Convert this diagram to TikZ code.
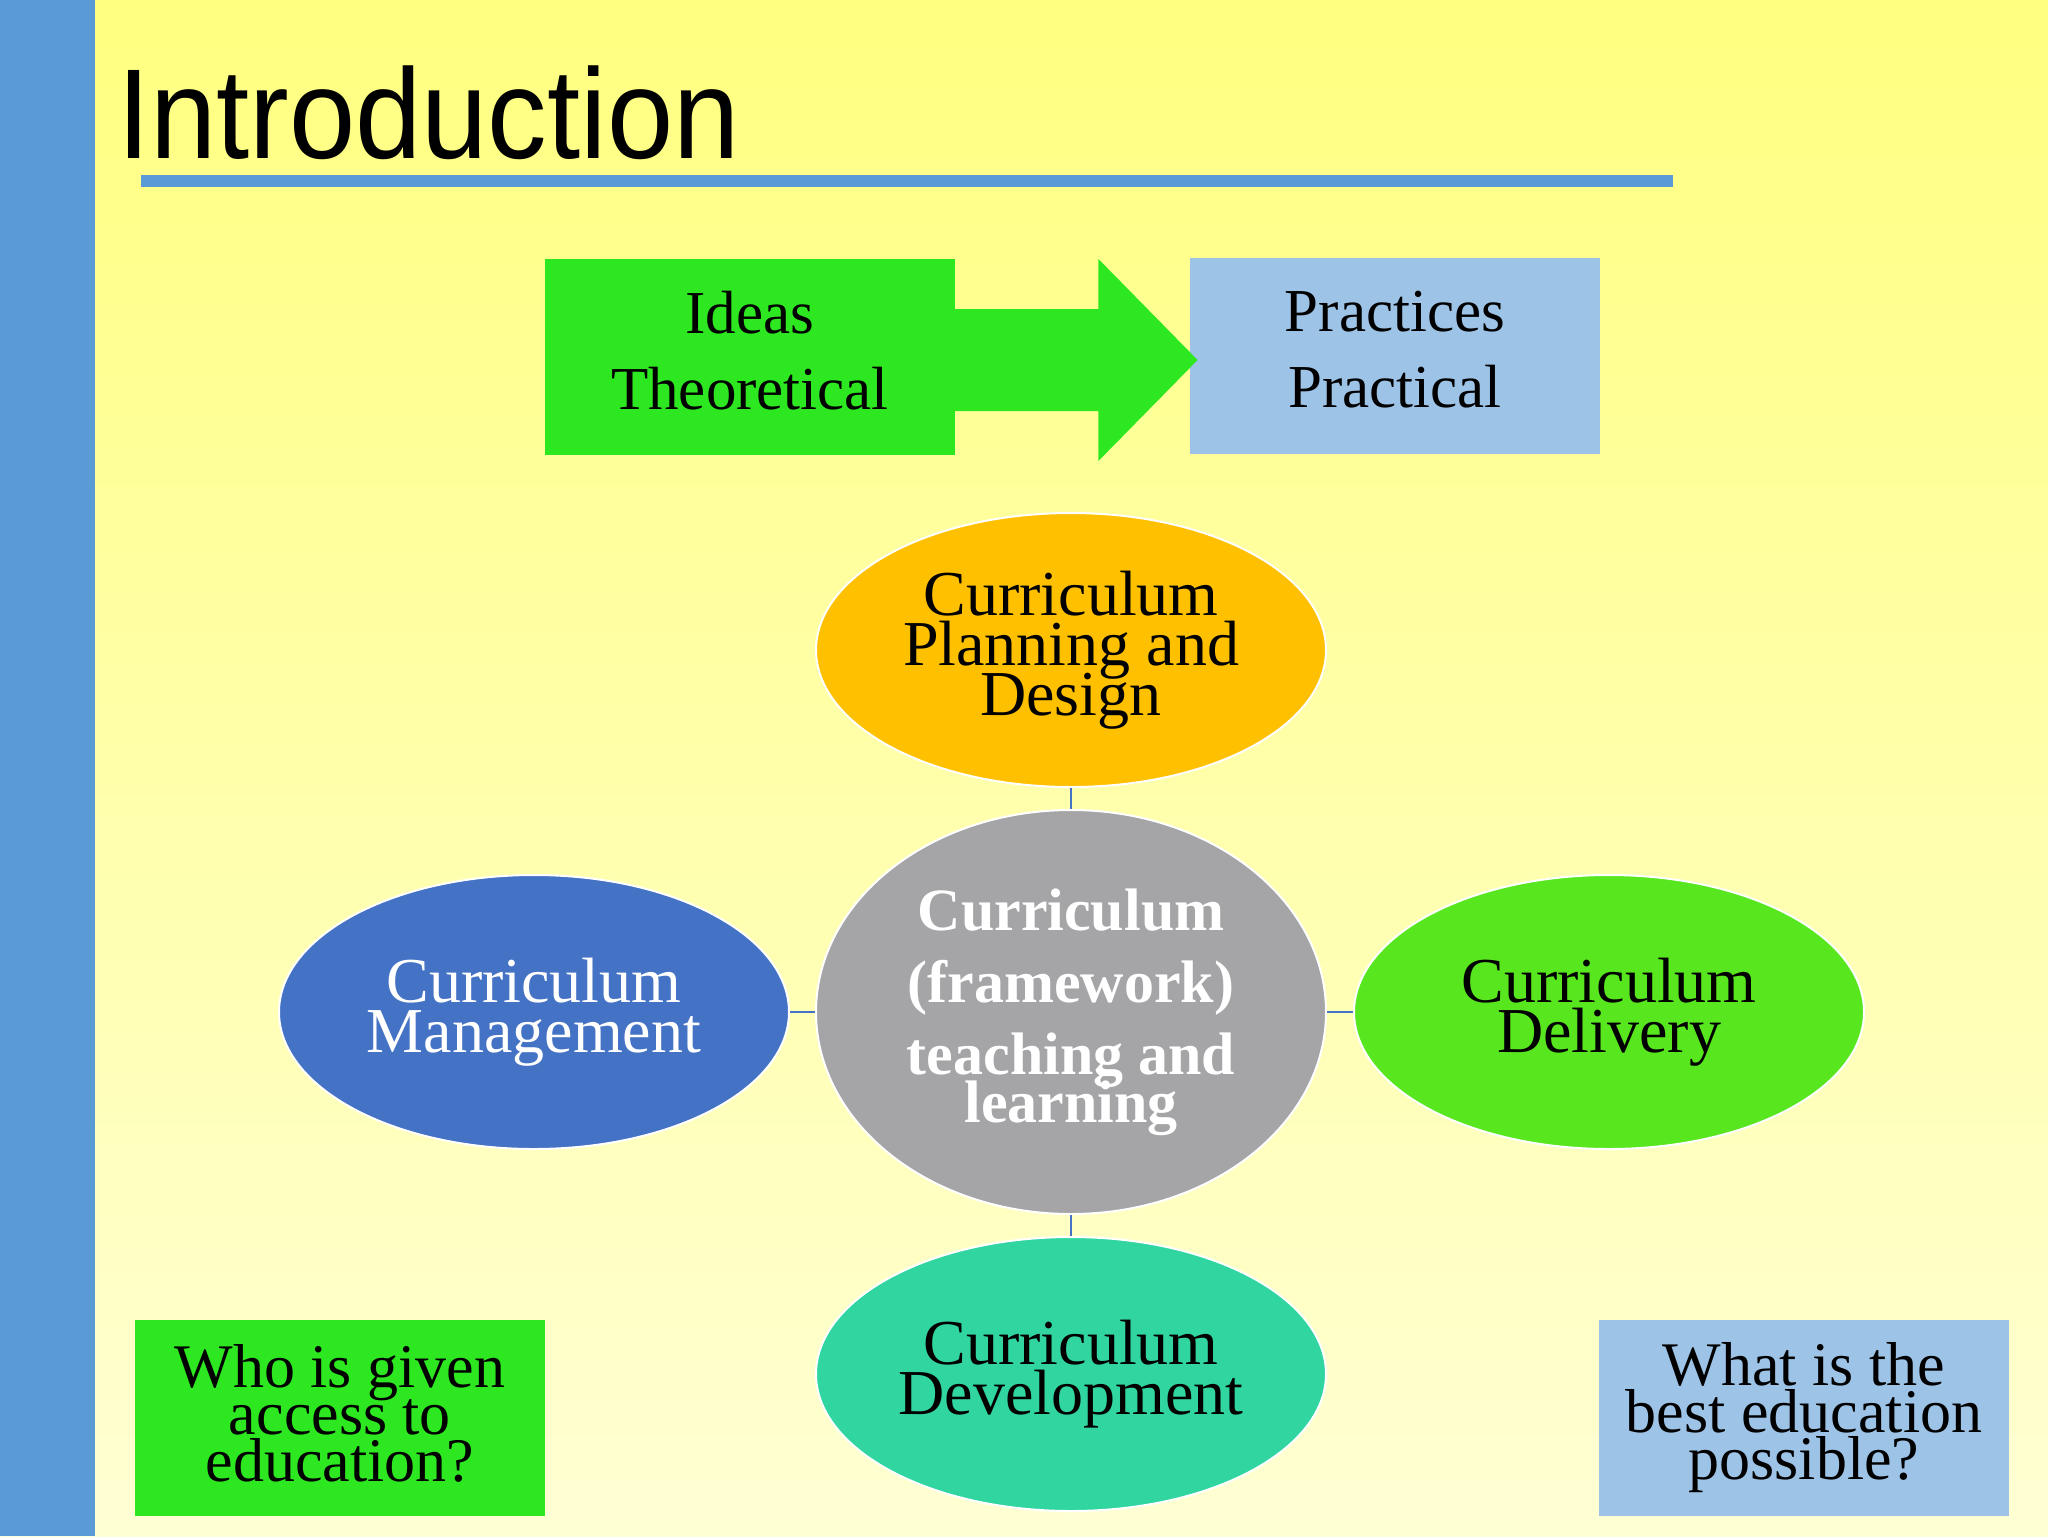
\documentclass[tikz,border=0pt]{standalone}
\usepackage{fontspec}
\setmainfont{Liberation Serif}
\newfontfamily\titlefont{Liberation Sans}
\usetikzlibrary{shapes.geometric,calc}
\definecolor{bgtop}{HTML}{FFFF80}
\definecolor{bgbot}{HTML}{FFFFD4}
\definecolor{barblue}{HTML}{5B9BD5}
\definecolor{boxgreen}{HTML}{2DE820}
\definecolor{boxblue}{HTML}{9DC3E6}
\definecolor{planorange}{HTML}{FFC000}
\definecolor{coregrey}{HTML}{A5A5A8}
\definecolor{mgmtblue}{HTML}{4472C4}
\definecolor{delgreen}{HTML}{58E61E}
\definecolor{devteal}{HTML}{30D5A0}
\definecolor{linkblue}{HTML}{4472C4}
\newcommand{\tightlines}{\lineskiplimit=-100pt\lineskip=0pt}
\tikzset{
  box/.style={rectangle, minimum width=205pt, minimum height=98pt, inner sep=0pt, align=center},
  ell/.style={ellipse, draw=white, line width=1pt, minimum width=255pt, minimum height=137pt, inner sep=0pt, align=center, font=\tightlines\fontsize{32}{25}\selectfont},
  conn/.style={draw=linkblue, line width=1pt}
}
\begin{document}
\begin{tikzpicture}[x=0.5pt,y=-0.5pt]
\useasboundingbox (0,0) rectangle (2048,1536);
\shade[top color=bgtop,bottom color=bgbot] (0,0) rectangle (2048,1536);
\fill[barblue] (0,0) rectangle (95,1536);
\node[anchor=base west, inner sep=0pt] (title) at (117,158) {\titlefont\fontsize{64}{64}\selectfont\scalebox{0.93}[1]{Introduction}};
\fill[barblue] (141,175) rectangle (1673,187);

\node[box, fill=boxgreen, font=\tightlines\fontsize{30.5}{38}\selectfont] (ideas) at (750,357) {Ideas\\Theoretical\rule[-7pt]{0pt}{7pt}};
\node[box, fill=boxblue, font=\tightlines\fontsize{30.5}{38}\selectfont] (practices) at (1395,356) {Practices\\Practical\rule[-7pt]{0pt}{7pt}};
\fill[boxgreen] ($(ideas.east)+(-1,-48)$) -- ($(ideas.east)+(143,-48)$) -- ($(ideas.east)+(143,-98)$)
  -- ($(practices.west)+(8,4)$) -- ($(ideas.east)+(143,104)$) -- ($(ideas.east)+(143,54)$)
  -- ($(ideas.east)+(-1,54)$) -- cycle;

\node[ell, fill=planorange] (plan) at (1071,650) {Curriculum\\Planning and\\Design};
\node[ell, fill=coregrey, minimum height=202pt, text=white, font=\tightlines\bfseries\fontsize{30}{24}\selectfont] (core) at (1071,1012) {Curriculum\\[12pt](framework)\\[12pt]teaching and\\learning};
\node[ell, fill=mgmtblue, text=white] (mgmt) at (534,1012) {Curriculum\\Management};
\node[ell, fill=delgreen] (deliv) at (1609,1012) {Curriculum\\Delivery};
\node[ell, fill=devteal] (dev) at (1071,1374) {Curriculum\\Development};

\draw[conn] (plan.south) -- (core.north);
\draw[conn] (core.south) -- (dev.north);
\draw[conn] (mgmt.east) -- (core.west);
\draw[conn] (core.east) -- (deliv.west);

\node[box, fill=boxgreen, font=\tightlines\fontsize{31}{23.5}\selectfont] (who) at (340,1418) {Who is given\\access to\\education?\rule[-5pt]{0pt}{5pt}};
\node[box, fill=boxblue, font=\tightlines\fontsize{31}{23.5}\selectfont] (what) at (1804,1418) {What is the\\best education\\possible?};
\end{tikzpicture}
\end{document}
